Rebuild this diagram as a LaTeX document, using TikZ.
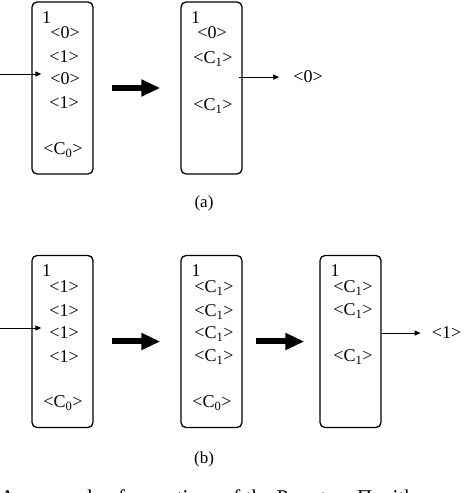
\documentclass[tikz,border=0pt]{standalone}
\usepackage{fontspec}
\setmainfont{Liberation Serif}
\usetikzlibrary{arrows.meta, positioning, calc}

\begin{document}
\begin{tikzpicture}[x=1pt, y=1pt,
    box/.style={draw, rounded corners=5pt, line width=1.3pt, minimum width=61pt, minimum height=172pt, inner sep=0pt},
    txt/.style={anchor=base, inner sep=0pt, font=\fontsize{18}{20}\selectfont},
    fat/.style={line width=6pt, -{Triangle[length=19pt, width=16pt]}},
    feed/.style={line width=0.8pt, -{Triangle[length=6pt, width=5pt]}}]
    \useasboundingbox (0,0) rectangle (474,493);
    \clip (0,0) rectangle (474,493);

    % Riga (a)
    \node[box] (a1) at (62.5,405) {};
    \node[box] (a2) at (211.5,405) {};
    \node[txt] (a1n) at (46.5,469) {1};
    \node[txt] (a1p) at (65,454) {<0>};
    \node[txt] (a1q) at (64,430) {<1>};
    \node[txt] (a1r) at (65,408) {<0>};
    \node[txt] (a1s) at (64,384) {<1>};
    \node[txt] (a1c) at (63,338) {<C\textsubscript{0}>};
    \node[txt] (a2n) at (195.5,469) {1};
    \node[txt] (a2p) at (212,454) {<0>};
    \node[txt] (a2q) at (213,429) {<C\textsubscript{1}>};
    \node[txt] (a2r) at (213,382) {<C\textsubscript{1}>};
    \node[txt] (oa) at (308,410) {<0>};
    \node[txt, font=\fontsize{17}{20}\selectfont] (capa) at (204,285) {(a)};

    \coordinate (ina) at (0,419);
    \draw[feed] (ina) -- ([xshift=10pt]ina -| a1.west);
    \draw[fat, shorten <=18pt, shorten >=20pt] (a1) -- (a2);
    \draw[feed, shorten >=14pt] ([xshift=-4pt]a2.east |- oa) -- (oa.west);

    % Riga (b)
    \node[box] (b1) at (62.5,151.5) {};
    \node[box] (b2) at (211.5,151.5) {};
    \node[box] (b3) at (350.5,151.5) {};
    \node[txt] (b1n) at (46.5,216) {1};
    \node[txt] (b1p) at (64,200) {<1>};
    \node[txt] (b1q) at (64,176) {<1>};
    \node[txt] (b1r) at (64,154) {<1>};
    \node[txt] (b1s) at (64,130) {<1>};
    \node[txt] (b1c) at (63,85) {<C\textsubscript{0}>};
    \node[txt] (b2n) at (196,216) {1};
    \node[txt] (b2p) at (214,200) {<C\textsubscript{1}>};
    \node[txt] (b2q) at (214,176) {<C\textsubscript{1}>};
    \node[txt] (b2r) at (214,154) {<C\textsubscript{1}>};
    \node[txt] (b2s) at (214,131) {<C\textsubscript{1}>};
    \node[txt] (b2c) at (212,85) {<C\textsubscript{0}>};
    \node[txt] (b3n) at (335,216) {1};
    \node[txt] (b3p) at (353,200) {<C\textsubscript{1}>};
    \node[txt] (b3q) at (353,177) {<C\textsubscript{1}>};
    \node[txt] (b3r) at (353,131) {<C\textsubscript{1}>};
    \node[txt] (ob) at (446.5,154) {<1>};
    \node[txt, font=\fontsize{17}{20}\selectfont] (capb) at (204,29) {(b)};

    \coordinate (inb) at (0,165);
    \draw[feed] (inb) -- ([xshift=10pt]inb -| b1.west);
    \draw[fat, shorten <=18pt, shorten >=20pt] (b1) -- (b2);
    \draw[fat, shorten <=13pt, shorten >=15pt] (b2) -- (b3);
    \draw[feed, shorten >=11pt] (b3.east |- ob) -- (ob.west);

    % Didascalia
    \node[anchor=base west, inner sep=0pt, font=\fontsize{21}{24}\selectfont] (cap) at (0,-12) {An example of operations of the P system Π with};
\end{tikzpicture}
\end{document}
